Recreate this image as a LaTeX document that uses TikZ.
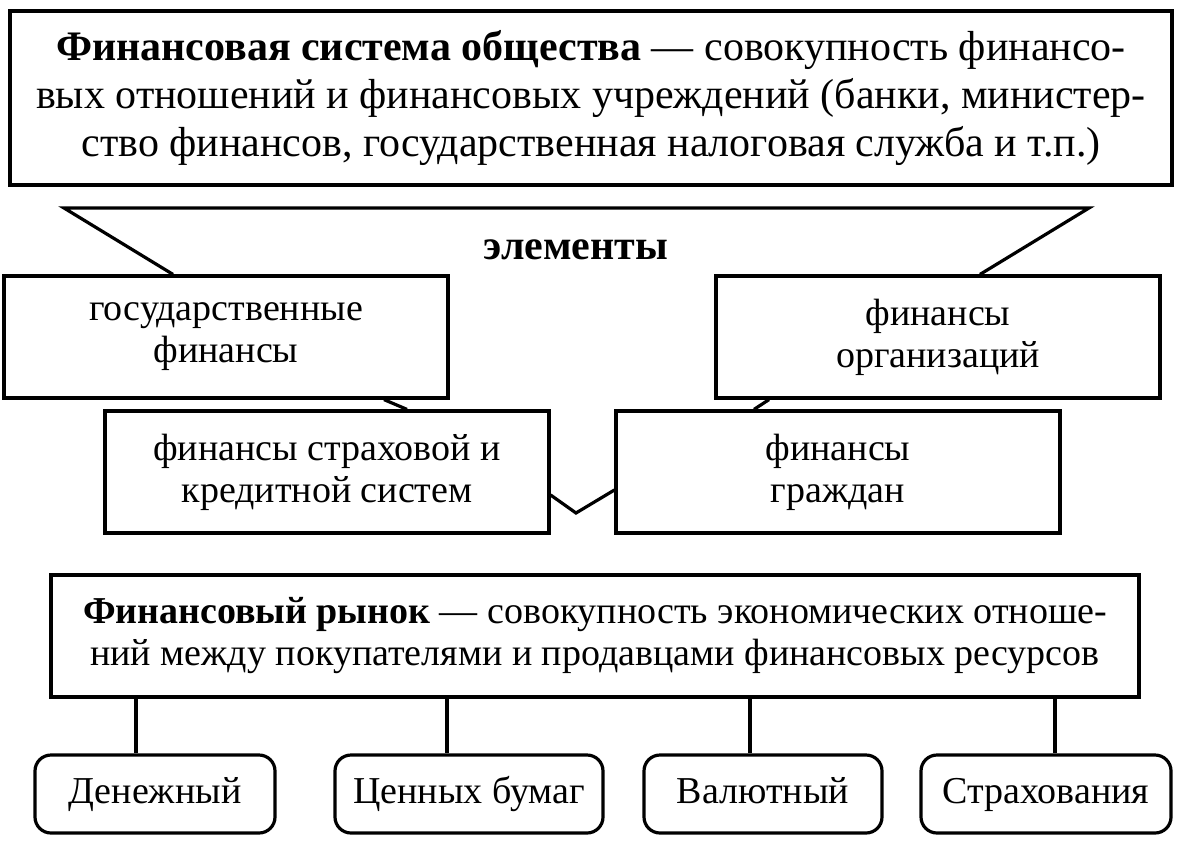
\documentclass[tikz,border=0pt]{standalone}
\usepackage{fontspec}
\setmainfont{Liberation Serif}
\begin{document}
\begin{tikzpicture}[x=0.5pt,y=-0.5pt, line width=1.6pt,
    box/.style={draw, rectangle, align=center, inner sep=0pt, font=\fontsize{19}{21}\selectfont},
    rbox/.style={draw, rounded corners=8pt, align=center, inner sep=0pt, text height=13pt, text depth=4pt, font=\fontsize{19}{21}\selectfont}]
    \useasboundingbox (0,0) rectangle (1182,840);
    % Boxes
    \node[box, minimum width=581pt, minimum height=87pt, font=\fontsize{21}{24}\selectfont] at (591, 98) (top)
        {\textbf{Финансовая система общества} — совокупность финансо-\\
         вых отношений и финансовых учреждений (банки, министер-\\
         ство финансов, государственная налоговая служба и т.п.)};
    \node[font=\fontsize{21}{24}\selectfont\bfseries] at (576, 250) (elem) {элементы};
    \node[box, minimum width=222pt, minimum height=61pt] at (226, 337) (gos) {государственные\\финансы};
    \node[box, minimum width=222pt, minimum height=61pt] at (938, 337) (org) {финансы\\организаций};
    \node[box, minimum width=222pt, minimum height=61pt] at (327, 472) (strah) {финансы страховой и\\кредитной систем};
    \node[box, minimum width=222pt, minimum height=61pt] at (838, 472) (grazh) {финансы\\граждан};
    \node[box, minimum width=544pt, minimum height=61pt] at (595, 636) (rynok)
        {\textbf{Финансовый рынок} — совокупность экономических отноше-\\
         ний между покупателями и продавцами финансовых ресурсов};
    \node[rbox, minimum width=120pt, minimum height=39pt] at (155, 794) (den) {Денежный};
    \node[rbox, minimum width=134pt, minimum height=39pt] at (469, 794) (cen) {Ценных бумаг};
    \node[rbox, minimum width=119pt, minimum height=39pt] at (763, 794) (val) {Валютный};
    \node[rbox, minimum width=125pt, minimum height=39pt] at (1046, 794) (str) {Страхования};

    % Lines
    \coordinate (tl) at (64, 208);
    \coordinate (tr) at (1089, 208);
    \coordinate (v) at (576, 513);
    \draw (gos.north -| 173,0) -- (tl) -- (tr) -- (org.north -| 980,0);
    \draw (gos.south -| 384,0) -- (strah.north -| 407,0);
    \draw (org.south -| 769,0) -- (grazh.north -| 754,0);
    \draw (strah.east |- 0,495) -- (v) -- (grazh.west |- 0,490);
    \foreach \n/\x in {den/136, cen/447, val/750, str/1055}
        \draw (rynok.south -| \x,0) -- (\n.north -| \x,0);
\end{tikzpicture}
\end{document}
